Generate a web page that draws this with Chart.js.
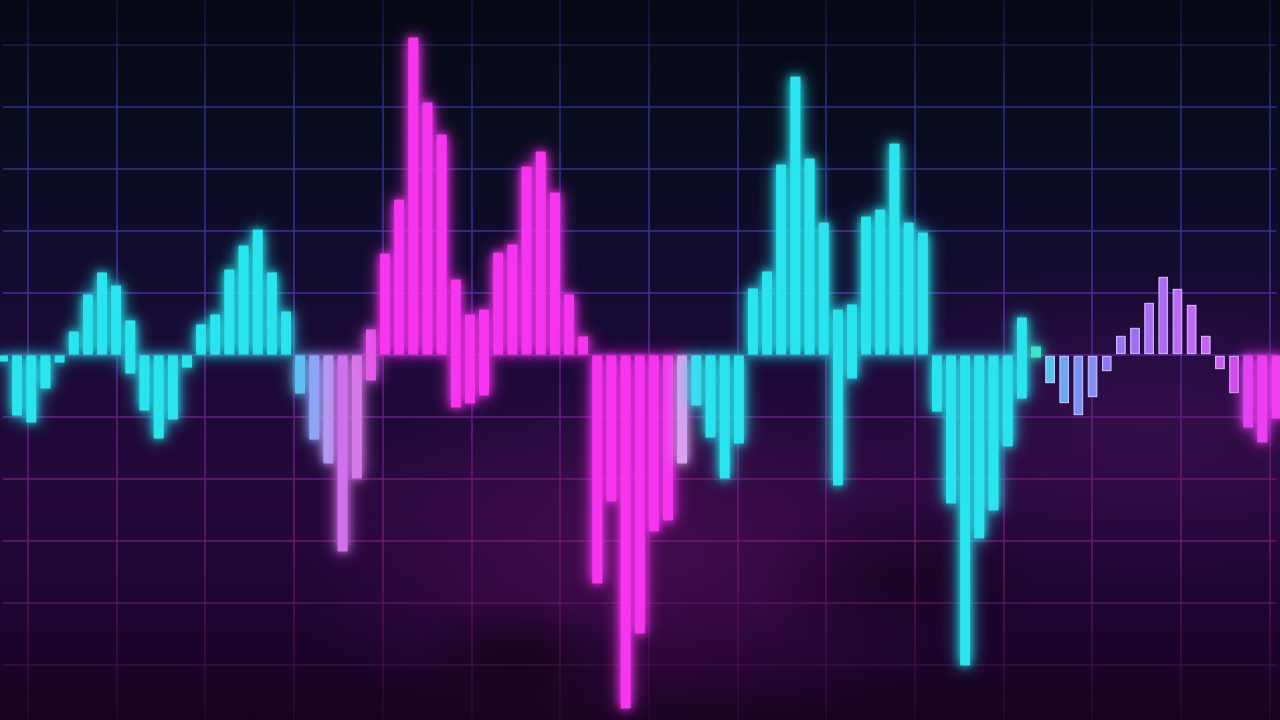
<!DOCTYPE html>
<html><head><meta charset="utf-8">
<script src="https://cdn.jsdelivr.net/npm/chart.js@4/dist/chart.umd.min.js"></script>
<style>
html,body{margin:0;padding:0;width:1280px;height:720px;overflow:hidden;background:#0a0a1e;}
#wrap{position:absolute;left:0;top:0;width:1280px;height:720px;
background:
 radial-gradient(ellipse 160px 90px at 520px 660px, rgba(15,2,18,0.7), rgba(15,2,18,0) 70%),
 radial-gradient(ellipse 200px 120px at 900px 580px, rgba(15,2,18,0.55), rgba(15,2,18,0) 70%),
 radial-gradient(ellipse 520px 260px at 640px 560px, rgba(120,20,120,0.40), rgba(120,20,120,0) 70%),
 radial-gradient(ellipse 500px 240px at 1150px 420px, rgba(90,20,110,0.35), rgba(0,0,0,0) 70%),
 linear-gradient(180deg,#060913 0%,#0a0c20 18%,#120c2e 38%,#1d0a38 52%,#25083a 68%,#1e0530 85%,#17031f 100%);}
canvas{position:absolute;left:0;top:0;}
</style></head>
<body><div id="wrap"><canvas id="c" width="1280" height="720"></canvas></div>
<script>
// ---- data (units: above / below the zero line) ----
const tops = [
  0,0,0,0,0,23,60,82,69,34,
  0,0,0,0,30,40,85,109,125,82,
  43,0,0,0,0,0,25,101,155,317,
  252,220,75,40,45,102,110,188,203,162,
  60,18,0,0,0,0,0,0,0,0,
  0,0,0,66,83,190,278,196,132,45,
  50,138,145,211,132,122,0,0,0,0,
  0,0,37,8,0,0,0,0,0,19,
  27,52,78,66,50,19,0,0,0,0,
  0
];
const bottoms = [
  -6,-60,-67,-33,-7,0,0,0,0,-18,
  -55,-83,-64,-12,0,0,0,0,0,0,
  0,-38,-84,-108,-196,-123,-25,0,0,0,
  0,0,-52,-48,-40,0,0,0,0,0,
  0,0,-228,-146,-353,-278,-176,-165,-108,-50,
  -82,-123,-88,0,0,0,0,0,0,-130,
  -23,0,0,0,0,0,-56,-148,-310,-183,
  -155,-91,-43,-2,-28,-48,-60,-42,-16,0,
  0,0,0,0,0,0,-14,-38,-72,-87,
  -63
];
const categories = tops.map((_, i) => 'T' + (i + 1));
const gridYTicks = [-310,-248,-186,-124,-62,0,62,124,186,248,310];
const gridXTicks = [0,1,2,3,4,5,6,7,8,9,10,11,12,13,14];

// ---- styles ----
const CY = '#2be4ee', MG = '#f636ee';
const barColors = [];
for (let i = 0; i < tops.length; i++) barColors.push(CY);
const special = {
  21:'#58c6f2',22:'#8aa6f6',23:'#b09ef2',24:'#d070ea',25:'#d67cea',26:'#e25cea',
  48:'#d6a2ee',49:'#3fdcf0',
  73:'#3ce6c6',74:'#56c8f0',75:'#6eaaf6',76:'#7894f6',77:'#8690f6',78:'#907ef6',
  79:'#9a78f6',80:'#a272f6',81:'#aa70f6',82:'#b270f6',83:'#ba6ef6',84:'#c46cf6',85:'#ca66f4',
  86:'#cc5ef0',87:'#d452f0',88:'#e244f0',89:'#ec40f0',90:'#f03ef0'
};
for (let i = 27; i <= 47; i++) barColors[i] = MG;
Object.keys(special).forEach(k => barColors[+k] = special[k]);
const outlined = i => i >= 74 && i <= 87;

const glowPlugin = {
  id: 'glow',
  beforeDatasetDraw(chart, args) {
    args.meta.data.forEach((el, idx) => {
      if (el._glowWrapped) return;
      const orig = el.draw;
      el.draw = function (ctx) {
        ctx.save();
        ctx.shadowColor = barColors[idx] || '#fff';
        ctx.shadowBlur = 18;
        orig.call(this, ctx);
        ctx.shadowBlur = 8;
        orig.call(this, ctx);
        ctx.restore();
      };
      el._glowWrapped = true;
    });
  }
};

function gridGradient(context) {
  const chart = context.chart;
  const g = chart.ctx.createLinearGradient(0, 0, 0, chart.height);
  g.addColorStop(0.00, 'rgba(30,40,100,0.35)');
  g.addColorStop(0.14, 'rgba(40,48,130,0.75)');
  g.addColorStop(0.30, 'rgba(52,46,150,0.8)');
  g.addColorStop(0.42, 'rgba(74,42,150,0.8)');
  g.addColorStop(0.58, 'rgba(100,30,130,0.75)');
  g.addColorStop(0.75, 'rgba(112,26,112,0.7)');
  g.addColorStop(0.88, 'rgba(90,20,90,0.55)');
  g.addColorStop(1.00, 'rgba(60,14,64,0.35)');
  return g;
}

new Chart(document.getElementById('c'), {
  type: 'bar',
  data: {
    labels: categories,
    datasets: [{
      data: tops.map((t, i) => [bottoms[i], t]),
      backgroundColor: barColors.map((c, i) => outlined(i) ? c + 'bb' : c),
      borderColor: barColors.map((c, i) => outlined(i) ? '#d8c8ff' : c),
      borderWidth: barColors.map((c, i) => outlined(i) ? 1 : 0),
      borderSkipped: false,
      barThickness: 9,
      clip: false
    }]
  },
  options: {
    responsive: false,
    animation: false,
    layout: { padding: { left: 3, right: 3.5, top: 0, bottom: 0 } },
    plugins: { legend: { display: false }, tooltip: { enabled: false } },
    scales: {
      x: { type: 'category', offset: false, display: false, grid: { display: false } },
      gx: {
        type: 'linear', position: 'bottom', min: -0.282, max: 14.075, offset: false,
        afterBuildTicks: ax => { ax.ticks = gridXTicks.map(v => ({ value: v })); },
        ticks: { display: false },
        border: { display: false },
        grid: { offset: false, drawTicks: false, lineWidth: 2, color: c => gridGradient(c) }
      },
      y: {
        min: -365, max: 355,
        afterBuildTicks: ax => { ax.ticks = gridYTicks.map(v => ({ value: v })); },
        ticks: { display: false },
        border: { display: false },
        grid: { drawTicks: false, lineWidth: 2, color: c => gridGradient(c) }
      }
    }
  },
  plugins: [glowPlugin]
});
</script>
</body></html>
